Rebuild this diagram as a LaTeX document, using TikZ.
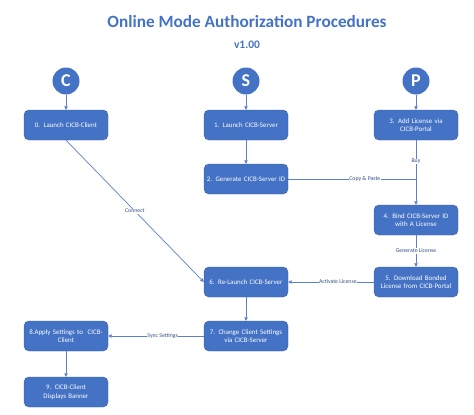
\documentclass[tikz,border=0pt]{standalone}
\usepackage{fontspec}
\setmainfont{Carlito}
\usetikzlibrary{arrows.meta}
\definecolor{obl}{HTML}{4472C4}
\definecolor{oln}{HTML}{5B7FC8}
\begin{document}
\begin{tikzpicture}[x=1pt,y=-1pt,
  stepbox/.style={draw=obl!80!black,line width=0.4pt,fill=obl,rounded corners=5pt,minimum width=84pt,minimum height=30pt,
    text width=83pt,align=center,text=white,font=\fontsize{6.9}{8.4}\selectfont,inner sep=0.5pt},
  role/.style={circle,fill=obl,minimum size=27pt,inner sep=0pt,text=white,font=\fontsize{18}{18}\selectfont\bfseries},
  conn/.style={draw=oln,line width=0.7pt,-{Triangle[length=3.5pt,width=3.5pt]}},
  plain/.style={draw=oln,line width=0.7pt},
  lbl/.style={fill=white,inner sep=0.5pt,text=obl!70!black,font=\fontsize{5.8}{6.4}\selectfont}]
\useasboundingbox (0,0) rectangle (474,415);
\node[text=obl,font=\fontsize{17.2}{18}\selectfont\bfseries] (title) at (247,22) {Online Mode Authorization Procedures};
\node[text=obl,font=\fontsize{11.5}{12}\selectfont\bfseries] (ver) at (247,45) {v1.00};
\node[role] (C) at (66,81) {C};
\node[role] (S) at (246,81) {S};
\node[role] (P) at (416,81) {P};
\node[stepbox] (b0) at (66,125) {0. Launch CICB-Client};
\node[stepbox] (b1) at (246,125) {1. Launch CICB-Server};
\node[stepbox] (b3) at (416,125) {3. Add License via\\CICB-Portal};
\node[stepbox] (b2) at (246,179) {2. Generate CICB-Server ID};
\node[stepbox] (b4) at (416,220) {4. Bind CICB-Server ID\\with A License};
\node[stepbox] (b5) at (416,282) {5. Download Bonded\\License from CICB-Portal};
\node[stepbox] (b6) at (246,282) {6. Re-Launch CICB-Server};
\node[stepbox] (b7) at (246,336) {7. Change Client Settings\\via CICB-Server};
\node[stepbox] (b8) at (66,336) {8.Apply Settings to\ \ CICB-\\Client};
\node[stepbox] (b9) at (66,392) {9. CICB-Client\\Displays Banner};
\coordinate (j) at (416,179);
\draw[conn] (C) -- (b0);
\draw[conn] (S) -- (b1);
\draw[conn] (P) -- (b3);
\draw[conn] (b1) -- (b2);
\draw[conn] (b3) -- node[lbl,pos=0.33]{Buy} (b4);
\draw[plain] (b2) -- node[lbl,pos=0.6]{Copy \& Paste} (j);
\draw[conn] (b4) -- node[lbl,pos=0.5]{Generate License} (b5);
\draw[conn] (b5) -- node[lbl,pos=0.42]{Activate License} (b6);
\draw[conn] (b0.south) -- node[lbl,pos=0.5]{Connect} (b6.west);
\draw[conn] (b6) -- (b7);
\draw[conn] (b7) -- node[lbl,pos=0.43]{Sync Settings} (b8);
\draw[conn] (b8) -- (b9);
\end{tikzpicture}
\end{document}
